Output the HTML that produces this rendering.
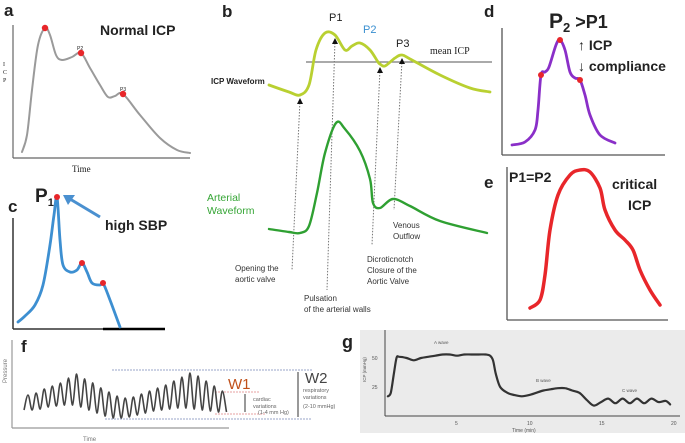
<!DOCTYPE html>
<html><head><meta charset="utf-8">
<style>
html,body{margin:0;padding:0;background:#fff;}
svg{display:block;font-family:"Liberation Sans",sans-serif;}
</style></head>
<body>
<svg id="fig" width="685" height="443" viewBox="0 0 685 443">
<rect x="360" y="330" width="325" height="103" fill="#ebebeb"/>
<g id="static" fill="#222">
  <!-- panel labels -->
  <text x="4" y="16" font-size="17" font-weight="bold">a</text>
  <text x="222" y="17" font-size="17" font-weight="bold">b</text>
  <text x="8" y="212" font-size="17" font-weight="bold">c</text>
  <text x="484" y="17" font-size="17" font-weight="bold">d</text>
  <text x="484" y="188" font-size="17" font-weight="bold">e</text>
  <text x="21" y="352" font-size="17" font-weight="bold">f</text>
  <text x="342" y="348" font-size="18" font-weight="bold">g</text>

  <!-- panel a -->
  <line x1="13" y1="25" x2="13" y2="158" stroke="#666" stroke-width="1.2"/>
  <line x1="13" y1="158" x2="190" y2="158" stroke="#666" stroke-width="1.2"/>
  <text x="100" y="35" font-size="14" font-weight="bold">Normal ICP</text>
  <text x="72" y="172" font-size="9" font-family="Liberation Serif,serif">Time</text>
  <text x="3" y="66" font-size="6" font-family="Liberation Serif,serif"><tspan x="3" dy="0">I</tspan><tspan x="3" dy="8">C</tspan><tspan x="3" dy="8">P</tspan></text>
  <text x="77" y="50" font-size="5">P2</text>
  <text x="120" y="91" font-size="5">P3</text>

  <!-- panel c -->
  <line x1="13" y1="218" x2="13" y2="329" stroke="#333" stroke-width="1.5"/>
  <line x1="13" y1="329" x2="165" y2="329" stroke="#333" stroke-width="1.5"/>
  <line x1="103" y1="329" x2="165" y2="329" stroke="#000" stroke-width="2.5"/>
  <text x="35" y="202" font-size="19" font-weight="bold">P<tspan font-size="11" dy="4">1</tspan></text>
  <line x1="100" y1="217" x2="70" y2="199" stroke="#4a90d0" stroke-width="3"/>
  <polygon points="63,195 75,195 68,205" fill="#4a90d0"/>
  <text x="105" y="230" font-size="14" font-weight="bold">high SBP</text>

  <!-- panel b -->
  <line x1="306" y1="62" x2="492" y2="62" stroke="#777" stroke-width="1.3"/>
  <text x="430" y="54" font-size="10" font-family="Liberation Serif,serif">mean ICP</text>
  <text x="329" y="21" font-size="11">P1</text>
  <text x="363" y="33" font-size="11" fill="#3a8fd0">P2</text>
  <text x="396" y="47" font-size="11">P3</text>
  <text x="211" y="84" font-size="8" font-weight="bold">ICP Waveform</text>
  <text x="207" y="201" font-size="10.5" fill="#35a535"><tspan x="207">Arterial</tspan><tspan x="207" dy="13">Waveform</tspan></text>
  <g font-size="8" fill="#333">
    <text x="235" y="271"><tspan x="235">Opening the</tspan><tspan x="235" dy="11">aortic valve</tspan></text>
    <text x="304" y="301"><tspan x="304">Pulsation</tspan><tspan x="304" dy="11">of the arterial walls</tspan></text>
    <text x="367" y="262"><tspan x="367">Dicroticnotch</tspan><tspan x="367" dy="11">Closure of the</tspan><tspan x="367" dy="11">Aortic Valve</tspan></text>
    <text x="393" y="228"><tspan x="393">Venous</tspan><tspan x="393" dy="11">Outflow</tspan></text>
  </g>

  <!-- panel d -->
  <line x1="502" y1="28" x2="502" y2="155" stroke="#555" stroke-width="1.3"/>
  <line x1="502" y1="155" x2="665" y2="155" stroke="#555" stroke-width="1.3"/>
  <text x="549" y="28" font-size="21" font-weight="bold">P<tspan font-size="13" dy="4">2</tspan><tspan dy="-4" font-size="18"> &gt;P1</tspan></text>
  <text x="578" y="50" font-size="14" font-weight="bold">↑ ICP</text>
  <text x="578" y="71" font-size="14" font-weight="bold">↓ compliance</text>

  <!-- panel e -->
  <line x1="507" y1="167" x2="507" y2="320" stroke="#555" stroke-width="1.3"/>
  <line x1="507" y1="320" x2="668" y2="320" stroke="#555" stroke-width="1.3"/>
  <text x="509" y="182" font-size="14" font-weight="bold">P1=P2</text>
  <text x="612" y="189" font-size="14" font-weight="bold">critical</text>
  <text x="628" y="210" font-size="14" font-weight="bold">ICP</text>

  <!-- panel f -->
  <line x1="12" y1="340" x2="12" y2="428" stroke="#999" stroke-width="1.2"/>
  <line x1="12" y1="428" x2="229" y2="428" stroke="#999" stroke-width="1.2"/>
  <text x="0" y="0" font-size="6" fill="#777" transform="translate(7,383) rotate(-90)">Pressure</text>
  <text x="83" y="441" font-size="6" fill="#777">Time</text>
  <line x1="112" y1="370" x2="312" y2="370" stroke="#9aa6c8" stroke-width="1" stroke-dasharray="2,1"/>
  <line x1="105" y1="419" x2="312" y2="419" stroke="#9aa6c8" stroke-width="1" stroke-dasharray="2,1"/>
  <line x1="215" y1="392" x2="260" y2="392" stroke="#e7a0a0" stroke-width="1" stroke-dasharray="2,1"/>
  <line x1="215" y1="414" x2="265" y2="414" stroke="#e7a0a0" stroke-width="1" stroke-dasharray="2,1"/>
  <line x1="245" y1="394" x2="245" y2="412" stroke="#333" stroke-width="1"/>
  <line x1="298" y1="372" x2="298" y2="417" stroke="#333" stroke-width="1"/>
  <text x="228" y="389" font-size="15" fill="#c0501a">W1</text>
  <text x="305" y="383" font-size="15" fill="#444">W2</text>
  <text x="253" y="401" font-size="5.5" fill="#666"><tspan x="253">cardiac</tspan><tspan x="253" dy="7">variations</tspan><tspan x="258" dy="6">(1-4 mm Hg)</tspan></text>
  <text x="303" y="392" font-size="5.5" fill="#666"><tspan x="303">respiratory</tspan><tspan x="303" dy="7">variations</tspan><tspan x="303" dy="9">(2-10 mmHg)</tspan></text>

  <!-- panel g -->
  <line x1="385" y1="330" x2="385" y2="416" stroke="#444" stroke-width="1"/>
  <line x1="385" y1="416" x2="680" y2="416" stroke="#444" stroke-width="1"/>
  <text x="0" y="0" font-size="4.5" fill="#555" transform="translate(366,382) rotate(-90)">ICP (mmHg)</text>
  <text x="512" y="432" font-size="5" fill="#555">Time (min)</text>
  <text x="434" y="344" font-size="4.5" fill="#555">A wave</text>
  <text x="536" y="382" font-size="4.5" fill="#555">B wave</text>
  <text x="622" y="392" font-size="4.5" fill="#555">C wave</text>
</g>
<g id="plots"></g>
</svg>
<script>
// ===== data (panel-local units: time, value) =====
// panel a: normal ICP pulse
const aTime = [9,14,19,25,32,37,43,49,59,68,77,87,95,102,110,127,147,164,177];
const aVal  = [5,22,67,112,129,122,102,97,100,104,89,72,60,61,63,42,19,7,4];
const aPeaks = [4,9,14];
// panel c: high SBP
const cTime = [5,12,22,30,37,41,44,47,50,57,64,69,74,79,87,90,97,107];
const cVal  = [7,13,24,44,84,114,132,89,64,57,59,66,57,46,44,46,29,2];
const cPeaks = [6,11,15];
// panel b: ICP waveform (above baseline)
const bIcpTime = [0,20,31,40,47,56,66,76,83,91,101,109,111,116,126,133,143,171,201,221];
const bIcpVal  = [15,8,5,15,50,67,65,50,54,57,50,38,36,34,42,45,40,25,12,8];
const bTriIdx  = [2,6,12,15];
// panel b: arterial waveform
const bArtTime = [0,20,31,40,48,56,67,76,91,101,104,111,124,141,171,218];
const bArtVal  = [4,1,0,7,40,80,110,104,82,54,30,25,34,27,12,0];
const bDropTo  = [270,290,245,210];
// panel d: P2>P1
const dTime = [10,23,33,36,39,43,47,54,58,63,68,73,78,83,88,98,113];
const dVal  = [10,13,25,45,80,83,88,110,115,105,83,77,75,60,40,20,12];
const dPeaks = [4,8,12];
// panel e: P1=P2
const eTime = [23,33,38,43,51,63,73,83,93,98,108,118,126,133,143,153];
const eVal  = [12,20,45,90,125,145,150,148,132,110,90,80,70,50,30,15];
// panel f: peaks and troughs of cardiac oscillations
const fPeaks   = [395,393,389,386,383,378,374,379,383,388,392,396,398,397,394,391,388,385,381,377,373,376,381,386,391];
const fTroughs = [410,410,409,407,406,405,405,407,410,413,416,418,418,417,415,413,411,410,409,408,408,409,410,411,412];
// panel g: ICP trend (mmHg vs minutes)
const gTime = [0.2,0.4,0.6,0.8,1,1.5,2,2.5,3,3.5,4,4.5,5,5.5,6,6.5,7,7.3,7.5,7.7,8,8.5,9,9.5,10,10.5,11,11.5,12,12.5,13,13.5,14,14.5,15,15.5,16,16.5,17,17.5,18,18.5,19,19.5,19.8];
const gVal  = [17,20,35,50,51,50,48,50,51,52,53,53,52,53,53,53,53,52,48,36,25,20,18,17,18,20,22,23,24,24,22,20,14,9,12,15,11,15,11,15,11,15,12,13,10];
const gYTicks = [25,50];
const gXTicks = [5,10,15,20];

const NS = "http://www.w3.org/2000/svg";
const plots = document.getElementById('plots');
function el(tag, attrs){ const e=document.createElementNS(NS,tag); for(const k in attrs) e.setAttribute(k,attrs[k]); return e; }
function smoothPath(pts){
  let d = "M"+pts[0][0].toFixed(1)+","+pts[0][1].toFixed(1);
  for(let i=0;i<pts.length-1;i++){
    const p0=pts[Math.max(0,i-1)], p1=pts[i], p2=pts[i+1], p3=pts[Math.min(pts.length-1,i+2)];
    const c1=[p1[0]+(p2[0]-p0[0])/6, p1[1]+(p2[1]-p0[1])/6];
    const c2=[p2[0]-(p3[0]-p1[0])/6, p2[1]-(p3[1]-p1[1])/6];
    d+=" C"+c1[0].toFixed(1)+","+c1[1].toFixed(1)+" "+c2[0].toFixed(1)+","+c2[1].toFixed(1)+" "+p2[0].toFixed(1)+","+p2[1].toFixed(1);
  }
  return d;
}
function curve(xs, vs, sx, sy, color, w, name){
  const pts = xs.map((t,i)=>[sx(t), sy(vs[i])]);
  const p = el('path',{d:smoothPath(pts),fill:'none',stroke:color,'stroke-width':w,'stroke-linejoin':'round','stroke-linecap':'round'});
  
  
  plots.appendChild(p);
  return pts;
}
function dots(pts, idx, r, name){
  idx.forEach(i=>{
    const c = el('circle',{cx:pts[i][0],cy:pts[i][1],r:r,fill:'#e8262a'});
    
    
    plots.appendChild(c);
  });
}
// axis functions
const aX=t=>13+t, aY=v=>157-v;
const cX=t=>13+t, cY=v=>329-v;
const bX=t=>269+t, bIY=v=>100-v, bAY=v=>233-v;
const dX=t=>502+t, dY=v=>155-v;
const eX=t=>507+t, eY=v=>320-v;
const gX=t=>385+t*14.4, gY=v=>416-v*1.16;

let pa = curve(aTime,aVal,aX,aY,'#9a9a9a',2,'normal-icp-curve');
dots(pa,aPeaks,3.2,'normal-icp-peak');
let pc = curve(cTime,cVal,cX,cY,'#3d8fd1',2.8,'high-sbp-curve');
dots(pc,cPeaks,3,'high-sbp-peak');

// panel b dotted verticals + curves
bTriIdx.forEach((ix,k)=>{
  const x=bX(bIcpTime[ix]), y=bIY(bIcpVal[ix])+5;
  const ln = el('line',{x1:x,y1:y,x2:x-8,y2:bDropTo[k],stroke:'#777','stroke-width':1,'stroke-dasharray':'1.5,1.5'});
  
  
  plots.appendChild(ln);
});
curve(bIcpTime,bIcpVal,bX,bIY,'#b9d031',2.8,'icp-waveform-curve');
curve(bArtTime,bArtVal,bX,bAY,'#2fa032',2.4,'arterial-waveform-curve');
bTriIdx.forEach(ix=>{
  const x=bX(bIcpTime[ix]), y=bIY(bIcpVal[ix])+3;
  const tri = el('polygon',{points:`${x-3},${y+6} ${x+3},${y+6} ${x},${y}`,fill:'#111'});
  
  
  plots.appendChild(tri);
});

let pd = curve(dTime,dVal,dX,dY,'#8a2fc8',2.8,'p2-greater-p1-curve');
dots(pd,dPeaks,3,'p2-greater-p1-peak');
curve(eTime,eVal,eX,eY,'#e8262a',3.5,'critical-icp-curve');

// panel f oscillations
(function(){
  const x0=24, step=8.1;
  const pts=[];
  fPeaks.forEach((p,i)=>{
    pts.push([x0+i*step, fTroughs[i]]);
    pts.push([x0+i*step+4, p]);
  });
  pts.push([x0+fPeaks.length*step, fTroughs[fTroughs.length-1]]);
  const path = el('path',{d:smoothPath(pts),fill:'none',stroke:'#444','stroke-width':1.6});
  
  
  plots.appendChild(path);
})();

// panel g
gYTicks.forEach(v=>{
  const t = el('text',{x:372,y:gY(v)+2,'font-size':5,fill:'#555'});
  t.textContent=v;
  
  
  plots.appendChild(t);
});
gXTicks.forEach(v=>{
  const t = el('text',{x:gX(v)-2,y:425,'font-size':5,fill:'#555'});
  t.textContent=v;
  
  
  plots.appendChild(t);
});
curve(gTime,gVal,gX,gY,'#333',2.2,'icp-trend-curve');
</script>
</body></html>
